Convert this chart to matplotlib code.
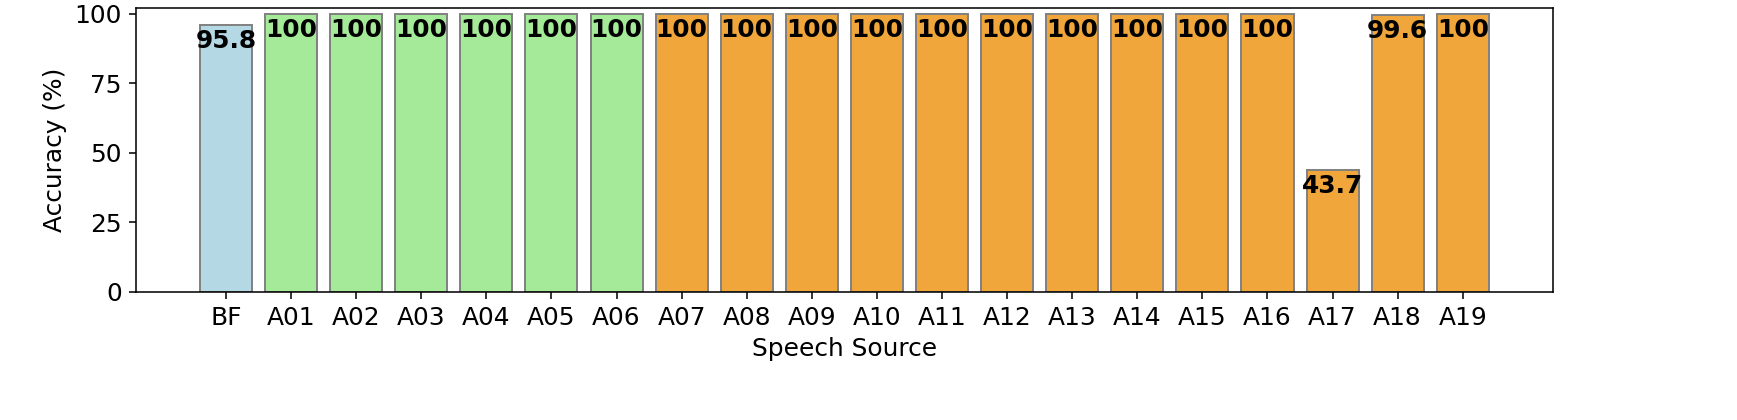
import matplotlib
matplotlib.use("Agg")
import matplotlib.pyplot as plt

categories = ["BF"] + [f"A{i:02d}" for i in range(1, 20)]
values = [95.8, 100, 100, 100, 100, 100, 100, 100, 100, 100, 100, 100, 100, 100, 100, 100, 100, 43.7, 99.6, 100]
labels = ["95.8"] + ["100"] * 16 + ["43.7", "99.6", "100"]
colors = ["#b4d8e4"] + ["#a4ea98"] * 6 + ["#f0a63a"] * 13

plt.rcParams["font.size"] = 12.8
fig = plt.figure(figsize=(12.41, 3.0), dpi=140)
ax = fig.add_axes([0.078, 0.305, 0.816, 0.676])
bars = ax.bar(categories, values, color=colors, edgecolor="gray")
for b, lab in zip(bars, labels):
    ax.text(b.get_x() + b.get_width() / 2, b.get_height() - 1.5, lab, ha="center", va="top",
            fontweight="bold", fontsize=12.8)
ax.set_ylim(0, 102)
ax.set_yticks([0, 25, 50, 75, 100])
ax.set_xlabel("Speech Source")
ax.set_ylabel("Accuracy (%)")
fig.savefig("out.png")
